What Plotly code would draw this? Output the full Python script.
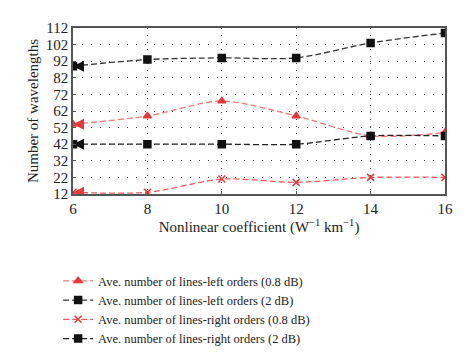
import plotly.graph_objects as go

x_vals = [6, 8, 10, 12, 14, 16]
left_08 = [54, 59, 68, 59, 47, 49]
left_2 = [89, 93, 94, 94, 103, 109]
right_08 = [13, 13, 21, 19, 22, 22]
right_2 = [42, 42, 42, 42, 47, 47]
names = [
    "Ave. number of lines-left orders (0.8 dB)",
    "Ave. number of lines-left orders (2 dB)",
    "Ave. number of lines-right orders (0.8 dB)",
    "Ave. number of lines-right orders (2 dB)",
]
y_ticks = list(range(12, 113, 10))

RED = "#e8383a"
BLK = "#111111"
FONT = "Liberation Serif"

series = [
    (left_08, names[0], RED, "#f07a7a", "triangle-up", 7),
    (left_2, names[1], BLK, "#333333", "square", 7),
    (right_08, names[2], RED, "#f05a5a", "x-thin", 7),
    (right_2, names[3], BLK, "#222222", "square", 7),
]

fig = go.Figure()
for ys, nm, mc, lc, sym, sz in series:
    fig.add_trace(go.Scatter(
        x=x_vals, y=ys, name=nm, mode="lines+markers",
        line=dict(color=lc, width=1.3, dash="6px,3px", shape="spline", smoothing=0.8),
        marker=dict(symbol=sym, size=sz, color=mc,
                    line=dict(color=mc, width=1.5)),
    ))
for ys, nm, mc, lc, sym, sz in series:
    fig.add_trace(go.Scatter(
        x=[x_vals[0]], y=[ys[0]], mode="markers", showlegend=False,
        marker=dict(symbol="arrow-left", size=11, color=mc), hoverinfo="skip",
    ))

axis_common = dict(
    showline=True, linecolor="#555555", linewidth=1.5, mirror=True,
    showgrid=True, gridcolor="#444444", gridwidth=1,
    ticks="inside", ticklen=3, tickcolor="#555555",
    zeroline=False,
    tickfont=dict(family=FONT, size=15, color="#222222"),
)
fig.update_xaxes(
    range=[6, 16], tickvals=x_vals, griddash="1px,6px",
    title=dict(text="Nonlinear coefficient (W<sup>−1</sup> km<sup>−1</sup>)",
               font=dict(family=FONT, size=15, color="#222222"), standoff=6),
    **axis_common,
)
fig.update_yaxes(
    range=[12, 112], tickvals=y_ticks, griddash="1px,8px",
    title=dict(text="Number of wavelengths",
               font=dict(family=FONT, size=15, color="#222222"), standoff=4),
    **axis_common,
)
fig.update_layout(
    width=474, height=353,
    margin=dict(l=73, r=29, t=28, b=159, autoexpand=False),
    paper_bgcolor="white", plot_bgcolor="white",
    legend=dict(x=-0.04, y=-0.435, xanchor="left", yanchor="top",
                font=dict(family=FONT, size=12.5, color="#222222"),
                itemwidth=30, tracegroupgap=0, bgcolor="rgba(0,0,0,0)"),
    showlegend=True,
)
fig.write_html("out.html")
